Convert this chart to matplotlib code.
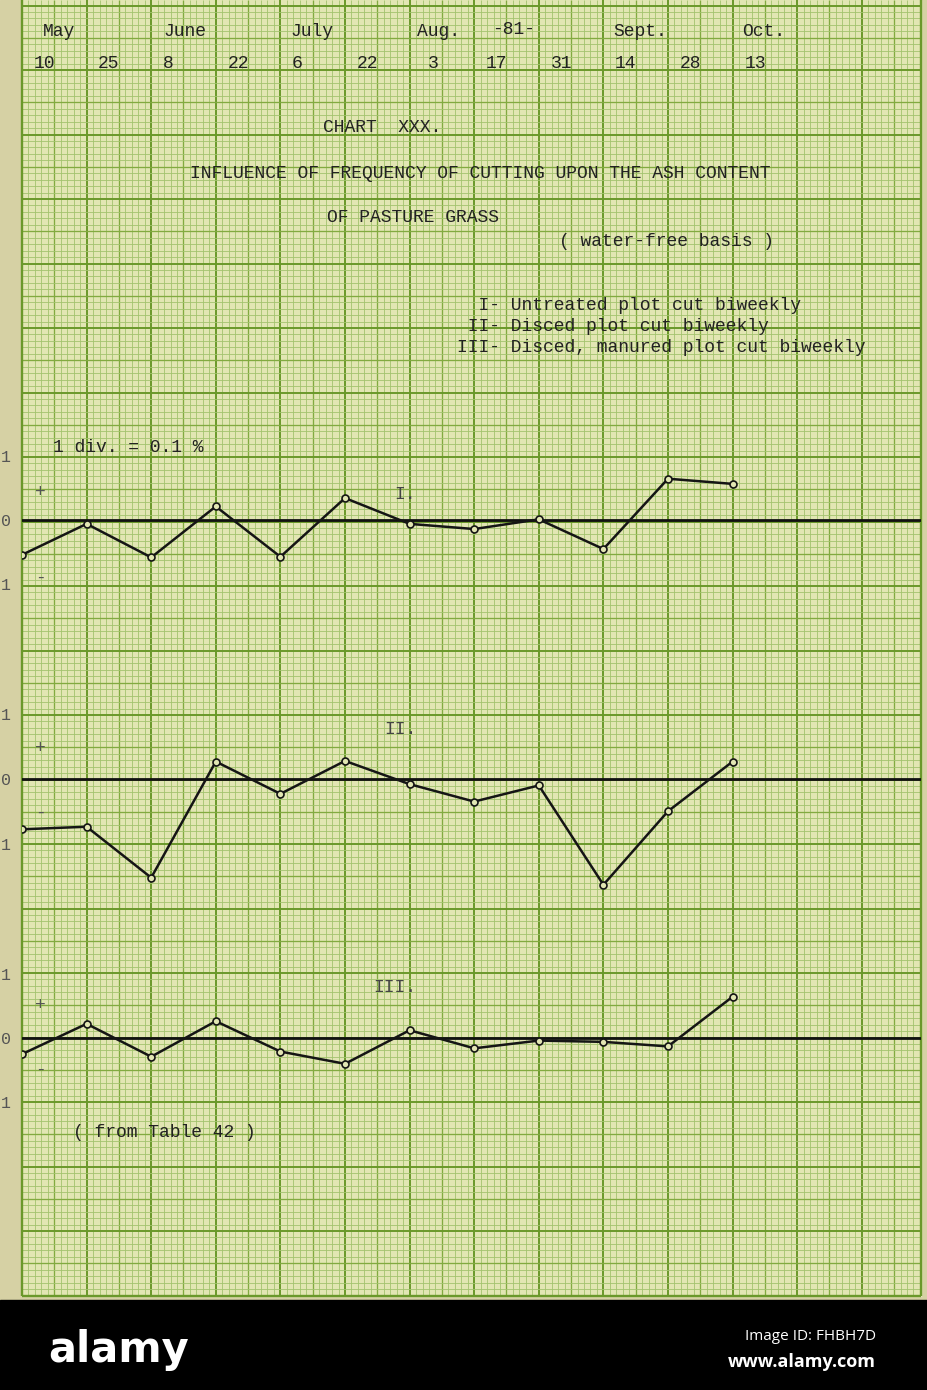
import matplotlib.pyplot as plt
from matplotlib.transforms import blended_transform_factory

# dates along the top (one reading every two weeks)
months = ["May", "June", "July", "Aug.", "Sept.", "Oct."]
month_pos = [0.33, 2.19, 4.15, 6.12, 9.15, 11.14]
days = ["10", "25", "8", "22", "6", "22", "3", "17", "31", "14", "28", "13"]

# deviation from the mean ash content, in divisions (1 div. = 0.1 %)
series_I = [-0.54, -0.06, -0.58, 0.21, -0.57, 0.34, -0.06,
            -0.14, 0.01, -0.45, 0.64, 0.56]
series_II = [-0.78, -0.74, -1.53, 0.27, -0.23, 0.28, -0.08,
             -0.35, -0.10, -1.64, -0.50, 0.27]
series_III = [-0.25, 0.22, -0.29, 0.26, -0.21, -0.40, 0.12,
              -0.16, -0.04, -0.06, -0.13, 0.64]

names = ["I.", "II.", "III."]
legend = ["  I- Untreated plot cut biweekly",
          " II- Disced plot cut biweekly",
          "III- Disced, manured plot cut biweekly"]

W, H = 928, 1390
X0, DX = 22, 64.6          # grid origin / major spacing (px)
Y0, DY = 5.5, 64.5
RIGHT, BOTTOM = 921, 1296
MONO = "Liberation Mono"
INK = "#222222"

fig = plt.figure(figsize=(W / 100, H / 100), dpi=100)
bg = fig.add_axes([0, 0, 1, 1])
bg.set_xlim(0, W)
bg.set_ylim(H, 0)
bg.axis("off")

# paper
bg.add_patch(plt.Rectangle((0, 0), W, H, color="#d6d1a4", zorder=0))
bg.add_patch(plt.Rectangle((X0, 0), RIGHT - X0, BOTTOM, color="#e2e6b3", zorder=0))

# graph paper grid: 10 minor per major, heavier line at the half
n_x = int((RIGHT - X0) / (DX / 10)) + 1
for i in range(n_x):
    x = X0 + i * DX / 10
    if i % 10 == 0:
        c, lw = "#6a982a", 1.4
    elif i % 5 == 0:
        c, lw = "#82aa40", 0.95
    else:
        c, lw = "#a3c36e", 0.6
    bg.vlines(x, 0, BOTTOM, color=c, lw=lw, zorder=1)
n_y = int(BOTTOM / (DY / 10)) + 1
for j in range(n_y):
    y = Y0 + j * DY / 10
    if y > BOTTOM:
        break
    if j % 10 == 0:
        c, lw = "#6a982a", 1.4
    elif j % 5 == 0:
        c, lw = "#82aa40", 0.95
    else:
        c, lw = "#a3c36e", 0.6
    bg.hlines(y, X0, RIGHT, color=c, lw=lw, zorder=1)
bg.vlines([X0, RIGHT], 0, BOTTOM, color="#6a982a", lw=1.7, zorder=1)
bg.hlines(BOTTOM, X0, RIGHT, color="#6a982a", lw=1.7, zorder=1)

# titles
tkw = dict(family=MONO, fontsize=13, color=INK, zorder=3)
bg.text(382, 127, "CHART  XXX.", ha="center", va="center", **tkw)
bg.text(480, 174, "INFLUENCE OF FREQUENCY OF CUTTING UPON THE ASH CONTENT",
        ha="center", va="center", **tkw)
bg.text(327, 218, "OF PASTURE GRASS", ha="left", va="center", **tkw)
bg.text(559, 242, "( water-free basis )", ha="left", va="center", **tkw)
for k, line in enumerate(legend):
    bg.text(457, 305 + k * 21.5, line, ha="left", va="center", **tkw)

# black band at the bottom
bg.add_patch(plt.Rectangle((0, 1300), W, H - 1300, color="black", zorder=4))
bg.text(48, 1350, "alamy", family="DejaVu Sans", weight="bold", fontsize=30,
        color="white", ha="left", va="center", zorder=5)
bg.text(876, 1336, "Image ID: FHBH7D", family="Open Sans", fontsize=11,
        color="white", ha="right", va="center", zorder=5)
bg.text(876, 1362, "www.alamy.com", family="Open Sans", weight="bold",
        fontsize=13, color="white", ha="right", va="center", zorder=5)

# one axes per series, sharing the same x scale
zeros = [520, 779, 1038]
data = [series_I, series_II, series_III]
plus_y = [0.43, 0.48, 0.5]
minus_y = [-0.9, -0.53, -0.5]
name_y = [0.39, 0.76, 0.79]
axes = []
for k in range(3):
    z = zeros[k]
    ax = fig.add_axes([X0 / W, 1 - (z + 2 * DY) / H,
                       (RIGHT - X0) / W, 4 * DY / H])
    ax.set_xlim(0, (RIGHT - X0) / DX)
    ax.set_ylim(-2, 2)
    ax.patch.set_visible(False)
    for s in ax.spines.values():
        s.set_visible(False)
    ax.set_xticks([])
    ax.set_yticks([-1, 0, 1])
    ax.set_yticklabels(["1", "0", "1"], family=MONO, fontsize=12, color="#555")
    ax.tick_params(axis="y", length=0, pad=8)
    ax.axhline(0, color="#111", lw=2.0, zorder=2)
    ax.plot(range(len(data[k])), data[k], color="#151515", lw=1.8,
            marker="o", ms=5, mfc="#e2e6b3", mec="#151515", mew=1.2, zorder=3)
    ax.text(0.28, plus_y[k], "+", family=MONO, fontsize=13, color="#555",
            ha="center", va="center")
    ax.text(0.28, minus_y[k], "-", family=MONO, fontsize=13, color="#555",
            ha="center", va="center")
    ax.text(6.1, name_y[k], names[k], family=MONO, fontsize=13, color="#444",
            ha="right", va="center")
    axes.append(ax)

axes[0].text(0.48, 1.13, "1 div. = 0.1 %", family=MONO, fontsize=13,
             color=INK, ha="left", va="center")
axes[2].text(0.79, -1.47, "( from Table 42 )", family=MONO, fontsize=13,
             color=INK, ha="left", va="center")

# date header, placed on the series' x scale
hdr = blended_transform_factory(axes[0].transData, bg.transData)
for m, p in zip(months, month_pos):
    axes[0].text(p, 31, m, transform=hdr, family=MONO, fontsize=13,
                 color=INK, ha="left", va="center", clip_on=False)
axes[0].text(7.28, 29, "-81-", transform=hdr, family=MONO, fontsize=13,
             color=INK, ha="left", va="center", clip_on=False)
for i, d in enumerate(days):
    off = 0.28 if d == "3" else 0.18
    axes[0].text(i + off, 63, d, transform=hdr, family=MONO, fontsize=13,
                 color=INK, ha="left", va="center", clip_on=False)

fig.savefig("out.png", dpi=100)
